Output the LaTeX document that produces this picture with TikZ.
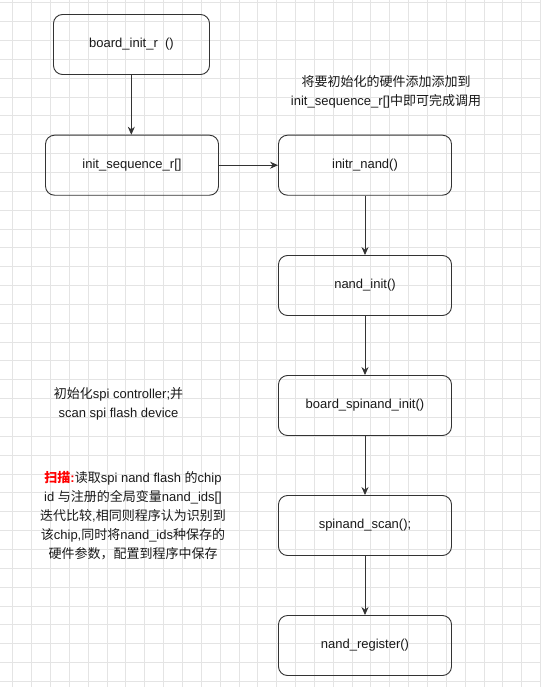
\documentclass[tikz,border=0pt]{standalone}
\usepackage{fontspec}
\setmainfont{Liberation Sans}
\newfontfamily\cjk{Noto Sans CJK SC}
\usetikzlibrary{arrows.meta}
\newcommand{\zh}[1]{{\cjk #1}}
\definecolor{gridc}{HTML}{E4E4E4}
\definecolor{linec}{HTML}{333333}
\tikzset{
  box/.style={draw=linec, line width=0.9pt, rounded corners=9pt, minimum width=173pt, minimum height=60pt, inner sep=0pt, font=\fontsize{13}{19}\selectfont, text=black!90},
  conn/.style={draw=linec, line width=0.9pt, -{Stealth[length=8pt,width=7pt]}},
  note/.style={align=center, font=\fontsize{13}{19}\selectfont, inner sep=0pt, text=black!90}
}
\begin{document}
\begin{tikzpicture}[x=1pt,y=-1pt]
\useasboundingbox (0,0) rectangle (541,687);
\fill[white] (0,0) rectangle (541,687);
\foreach \i in {0,...,28} {\draw[gridc, line width=0.8pt] ({12.7+18.85*\i},0) -- ({12.7+18.85*\i},687);}
\foreach \i in {0,...,36} {\draw[gridc, line width=0.8pt] (0,{2.7+18.85*\i}) -- (541,{2.7+18.85*\i});}

\node[box, minimum width=156pt] (bir) at (131.5,44.5) {board\_init\_r\ \ ()};
\node[box] (iseq) at (132,165.2) {init\_sequence\_r[]};
\node[box] (initr) at (365,165.2) {initr\_nand()};
\node[box] (ninit) at (365,285.5) {nand\_init()};
\node[box] (bsi) at (365,405.5) {board\_spinand\_init()};
\node[box] (scan) at (365,525.5) {spinand\_scan();};
\node[box] (nreg) at (365,645.5) {nand\_register()};

\draw[conn] (bir.south -| 131.3,0) -- (iseq.north -| 131.3,0);
\draw[conn] (iseq.east) -- (initr.west);
\draw[conn] (initr) -- (ninit);
\draw[conn] (ninit) -- (bsi);
\draw[conn] (bsi) -- (scan);
\draw[conn] (scan) -- (nreg);

\node[note] (n1) at (386,91.5) {\zh{将要初始化的硬件添加添加到}\\init\_sequence\_r[]\zh{中即可完成调用}};
\node[note] (n2) at (118.5,404) {\zh{初始化}spi controller;\zh{并}\\scan spi flash device};
\node[note] (n3) at (133,515.5) {{\color{red}\bfseries\zh{扫描}:}\zh{读取}spi nand flash \zh{的}chip\\id \zh{与注册的全局变量}nand\_ids[]\\\zh{迭代比较},\zh{相同则程序认为识别到}\\\zh{该}chip,\zh{同时将}nand\_ids\zh{种保存的}\\\zh{硬件参数，配置到程序中保存}};
\end{tikzpicture}
\end{document}
